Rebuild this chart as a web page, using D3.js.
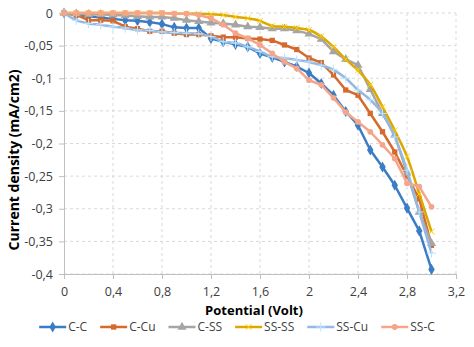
<!DOCTYPE html>
<html>
<head>
<meta charset="utf-8">
<script src="https://cdn.jsdelivr.net/npm/d3@7"></script>
<style>
  body { margin: 0; background: #fff; }
  text { font-family: "Open Sans", "Liberation Sans", sans-serif; fill: #404040; }
</style>
</head>
<body>
<div id="chart"></div>
<script>
// Data
const potential = [0, 0.1, 0.2, 0.3, 0.4, 0.5, 0.6, 0.7, 0.8, 0.9, 1.0, 1.1, 1.2, 1.3, 1.4, 1.5,
    1.6, 1.7, 1.8, 1.9, 2.0, 2.1, 2.2, 2.3, 2.4, 2.5, 2.6, 2.7, 2.8, 2.9, 3.0];

const cC = [0, -0.003, -0.005, -0.007, -0.009, -0.011, -0.012, -0.014, -0.017, -0.022, -0.023, -0.023,
    -0.039, -0.044, -0.048, -0.052, -0.062, -0.068, -0.075, -0.082, -0.092, -0.108, -0.126, -0.151,
    -0.172, -0.210, -0.236, -0.264, -0.299, -0.334, -0.393];
const cCu = [0, -0.003, -0.011, -0.011, -0.012, -0.021, -0.024, -0.028, -0.028, -0.031, -0.033, -0.033,
    -0.035, -0.037, -0.037, -0.039, -0.040, -0.042, -0.049, -0.056, -0.069, -0.076, -0.095, -0.118,
    -0.126, -0.154, -0.182, -0.213, -0.250, -0.285, -0.356];
const cSS = [0, -0.001, -0.002, -0.002, -0.003, -0.004, -0.005, -0.006, -0.006, -0.008, -0.011, -0.013,
    -0.015, -0.016, -0.018, -0.021, -0.022, -0.024, -0.024, -0.027, -0.032, -0.040, -0.059, -0.071,
    -0.080, -0.117, -0.154, -0.187, -0.245, -0.305, -0.353];
const ssSS = [0, 0, 0, 0, 0, 0, 0, 0, 0, -0.001, -0.001, -0.001, -0.002, -0.003, -0.006, -0.008,
    -0.012, -0.020, -0.021, -0.023, -0.026, -0.036, -0.052, -0.071, -0.088, -0.110, -0.144, -0.180,
    -0.220, -0.277, -0.335];
const ssCu = [0, -0.011, -0.016, -0.018, -0.021, -0.023, -0.026, -0.027, -0.029, -0.030, -0.031, -0.032,
    -0.036, -0.044, -0.046, -0.052, -0.059, -0.067, -0.069, -0.072, -0.075, -0.080, -0.087, -0.100,
    -0.118, -0.133, -0.154, -0.190, -0.241, -0.305, -0.368];
const ssC = [0, 0, 0, 0, 0, 0, 0, 0, 0, -0.001, -0.001, -0.003, -0.008, -0.018, -0.031, -0.039,
    -0.049, -0.062, -0.075, -0.085, -0.103, -0.110, -0.130, -0.152, -0.167, -0.182, -0.202, -0.223,
    -0.261, -0.266, -0.297];

const seriesNames = ["C-C", "C-Cu", "C-SS", "SS-SS", "SS-Cu", "SS-C"];
const xTicks = [0, 0.4, 0.8, 1.2, 1.6, 2.0, 2.4, 2.8, 3.2];
const yTicks = [0, -0.05, -0.1, -0.15, -0.2, -0.25, -0.3, -0.35, -0.4];

// styles per series
const styles = [
    { values: cC,   color: "#3b7dc4", marker: "diamond", curve: d3.curveLinear },
    { values: cCu,  color: "#d6692c", marker: "square",  curve: d3.curveLinear },
    { values: cSS,  color: "#a5a5a5", marker: "triangle", curve: d3.curveLinear },
    { values: ssSS, color: "#dca800", marker: "cross",   curve: d3.curveCatmullRom },
    { values: ssCu, color: "#95b8e2", marker: "plus",    curve: d3.curveCatmullRom },
    { values: ssC,  color: "#f4a58a", marker: "circle",  curve: d3.curveLinear },
];

const width = 474, height = 347;
const margin = { top: 13, right: 18, bottom: 73, left: 64 };

const svg = d3.select("#chart").append("svg")
    .attr("width", width)
    .attr("height", height);

const x = d3.scaleLinear().domain([0, 3.2]).range([margin.left, width - margin.right]);
const y = d3.scaleLinear().domain([-0.4, 0]).range([height - margin.bottom, margin.top]);

const fmt = d => d === 0 ? "0" : String(+d.toFixed(2)).replace(".", ",");

// gridlines (dashed)
svg.append("g")
    .selectAll("line")
    .data(yTicks)
    .join("line")
    .attr("x1", x(0)).attr("x2", x(3.2))
    .attr("y1", d => y(d)).attr("y2", d => y(d))
    .attr("stroke", "#d9d9d9")
    .attr("stroke-dasharray", "3,3");

svg.append("g")
    .selectAll("line")
    .data(xTicks.slice(1))
    .join("line")
    .attr("x1", d => x(d)).attr("x2", d => x(d))
    .attr("y1", y(0)).attr("y2", y(-0.4))
    .attr("stroke", "#d9d9d9")
    .attr("stroke-dasharray", "3,3");

// Axes
const xAxis = svg.append("g")
    .attr("transform", `translate(0,${y(-0.4)})`)
    .call(d3.axisBottom(x).tickValues(xTicks).tickFormat(fmt).tickSizeOuter(0).tickSize(5).tickPadding(8));

const yAxis = svg.append("g")
    .attr("transform", `translate(${x(0)},0)`)
    .call(d3.axisLeft(y).tickValues(yTicks).tickFormat(fmt).tickSizeOuter(0).tickSize(5).tickPadding(6));

[xAxis, yAxis].forEach(a => {
    a.select(".domain").attr("stroke", "#bfbfbf");
    a.selectAll(".tick line").attr("stroke", "#bfbfbf");
    a.selectAll(".tick text")
        .attr("fill", "#404040")
        .style("font-size", "12.5px")
        .style("font-family", "'Open Sans', sans-serif");
});

// Lines and markers
const symbolFor = {
    diamond: d3.symbol().type(d3.symbolDiamond).size(36),
    square: d3.symbol().type(d3.symbolSquare).size(28),
    triangle: d3.symbol().type(d3.symbolTriangle).size(36),
    cross: d3.symbol().type(d3.symbolX).size(24),
    plus: d3.symbol().type(d3.symbolCross2 || d3.symbolPlus).size(30),
    circle: d3.symbol().type(d3.symbolCircle).size(26),
};

styles.forEach(s => {
    const pts = potential.map((p, i) => ({ p, v: s.values[i] }));
    const line = d3.line()
        .x(d => x(d.p))
        .y(d => y(d.v))
        .curve(s.curve);

    svg.append("path")
        .datum(pts)
        .attr("fill", "none")
        .attr("stroke", s.color)
        .attr("stroke-width", 2.5)
        .attr("stroke-linejoin", "round")
        .attr("d", line);

    const open = s.marker === "cross" || s.marker === "plus";
    svg.append("g")
        .selectAll("path")
        .data(pts)
        .join("path")
        .attr("transform", d => `translate(${x(d.p)},${y(d.v)})`)
        .attr("d", symbolFor[s.marker]())
        .attr("fill", open ? "none" : s.color)
        .attr("stroke", open ? d3.color(s.color).brighter(0.6) : "none")
        .attr("stroke-width", 1);
});

// Axis titles
svg.append("text")
    .attr("x", 254)
    .attr("y", 315)
    .attr("text-anchor", "middle")
    .style("font-size", "13px")
    .style("font-weight", "bold")
    .style("fill", "#000")
    .text("Potential (Volt)");

svg.append("text")
    .attr("transform", "translate(19,160) rotate(-90)")
    .attr("text-anchor", "middle")
    .style("font-size", "14px")
    .style("font-weight", "bold")
    .style("fill", "#000")
    .text("Current density (mA/cm2)");

// Legend
const legend = svg.append("g");
const legendY = 327;
const items = legend.selectAll("g")
    .data(styles.map((s, i) => ({ ...s, name: seriesNames[i] })))
    .join("g");

items.append("text")
    .attr("x", 29)
    .attr("y", legendY + 4)
    .style("font-size", "12px")
    .text(d => d.name);

let widths = [];
items.each(function () {
    widths.push(this.querySelector("text").getComputedTextLength());
});
const gap = 13;
const total = d3.sum(widths, w => 29 + w) + gap * (widths.length - 1);
let cursor = (width - total) / 2;
items.each(function (d, i) {
    d3.select(this).attr("transform", `translate(${cursor},0)`);
    cursor += 29 + widths[i] + gap;
});

items.append("line")
    .attr("x1", 0).attr("x2", 27)
    .attr("y1", legendY).attr("y2", legendY)
    .attr("stroke", d => d.color)
    .attr("stroke-width", 2.5);

items.append("path")
    .attr("transform", `translate(13.5,${legendY})`)
    .attr("d", d => symbolFor[d.marker]())
    .attr("fill", d => (d.marker === "cross" || d.marker === "plus") ? "none" : d.color)
    .attr("stroke", d => (d.marker === "cross" || d.marker === "plus") ? d3.color(d.color).brighter(0.6) : "none");
</script>
</body>
</html>
